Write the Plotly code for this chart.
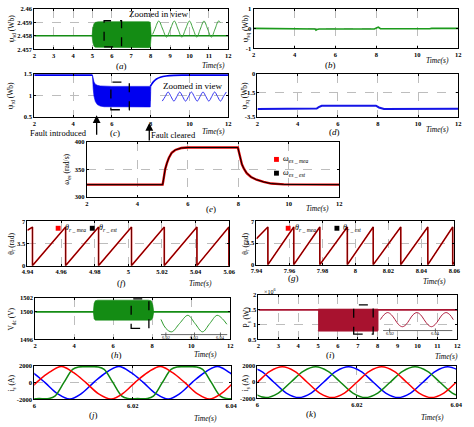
import plotly.graph_objects as go

W, H = 474, 427
FONT = "Liberation Serif"

# ------------------------- DATA -------------------------
# (a) psi_sd
a_line_t = [2, 12]
a_line_v = [2.458, 2.458]
a_band_t = [4.98, 5.02, 5.08, 5.15, 5.3, 5.6, 7.9, 7.98, 8.03]
a_band_hi = [2.458, 2.4586, 2.4589, 2.45900, 2.45904, 2.45905, 2.45905, 2.4590, 2.458]
a_band_lo = [2.458, 2.4575, 2.45722, 2.45715, 2.45712, 2.45712, 2.45712, 2.45715, 2.458]
a_zoom_t = [8.1, 8.22, 8.42, 8.62, 8.82, 9.02, 9.22, 9.41, 9.61, 9.8, 10.0, 10.19,
            10.38, 10.56, 10.75, 10.94, 11.13, 11.32, 11.5, 11.6]
a_zoom_v = [2.4581, 2.4585, 2.4591, 2.4585, 2.4579, 2.4585, 2.4591, 2.4585, 2.4579, 2.4585,
            2.4591, 2.4585, 2.4579, 2.4585, 2.4591, 2.4585, 2.4579, 2.4585, 2.4591, 2.4590]
a_box = [5.6, 6.5, 2.45718, 2.45912]

# (b) psi_sq
b_t = [2, 3.1, 3.15, 4.7, 5.0, 5.05, 5.1, 5.2, 5.5, 7.9, 8.05, 8.1, 8.2, 8.4, 10.6, 10.7, 12]
b_v = [0.01, 0.01, -0.01, -0.01, -0.02, -0.08, -0.04, -0.02, -0.02, -0.02, 0.05, 0.07,
       0.0, -0.01, -0.01, 0.01, 0.01]

# (c) psi_rd
c_pre_t = [2, 5.0]
c_pre_v = [1.47, 1.47]
c_rec_t = [7.98, 8.05, 8.15, 8.3, 8.5, 8.8, 9.2, 9.7, 12]
c_rec_v = [1.21, 1.26, 1.32, 1.38, 1.42, 1.45, 1.465, 1.47, 1.47]
c_band_t = [5.0, 5.04, 5.08, 5.15, 5.25, 5.4, 5.6, 6.0, 7.98, 8.01]
c_band_hi = [1.47, 1.38, 1.31, 1.26, 1.235, 1.22, 1.215, 1.21, 1.21, 1.21]
c_band_lo = [1.47, 1.15, 0.98, 0.86, 0.79, 0.755, 0.74, 0.735, 0.735, 1.20]
c_zoom_t = [8.6, 8.75, 8.9, 9.05, 9.2, 9.35, 9.5, 9.65, 9.8, 9.95, 10.1, 10.25, 10.4,
            10.55, 10.7, 10.85, 11.0, 11.15, 11.3, 11.45, 11.6, 11.75, 11.9]
c_zoom_v = [0.87, 0.975, 1.08, 0.975, 0.87, 0.975, 1.08, 0.975, 0.87, 0.975, 1.08, 0.975,
            0.87, 0.975, 1.08, 0.975, 0.87, 0.975, 1.08, 0.975, 0.87, 0.975, 1.08]
c_box = [5.95, 6.9, 0.67, 1.31]

# (d) psi_rq
d_t = [2, 3.5, 3.6, 4.95, 5.05, 5.2, 7.9, 8.05, 8.3, 11.0, 11.1, 12]
d_v = [-2.85, -2.85, -2.81, -2.81, -2.7, -2.58, -2.58, -2.72, -2.85, -2.86, -2.83, -2.83]

# (e) omega_es
e_t = [2, 5.0, 5.03, 5.06, 5.1, 5.17, 5.25, 5.36, 5.5, 5.74, 6.0, 7.98, 8.01, 8.04, 8.08,
       8.14, 8.22, 8.33, 8.5, 8.72, 9.0, 9.3, 9.8, 12]
e_mea = [322, 322, 330, 340, 350, 361, 371, 380, 385, 388.5, 389.5, 389.5, 384, 374, 366,
         359, 351, 343, 336, 331, 327, 324, 322.5, 322]
e_est = [322, 322, 330, 340, 350, 361, 371, 380, 385, 388.5, 389.5, 389.5, 384, 374, 366,
         359, 351, 343, 336, 331, 327, 324, 322.5, 322]

# (f) theta_r around 5 s
f_t = [4.94, 4.943, 4.943, 4.9627, 4.9627, 4.9823, 4.9823, 5.0019, 5.0019, 5.0214,
       5.0214, 5.0408, 5.0408, 5.0598, 5.0598, 5.06]
f_v = [5.6, 6.1, 0, 6.1, 0, 6.1, 0, 6.1, 0, 6.1, 0, 6.1, 0, 6.1, 0, 0.03]

# (g) theta_r around 8 s
g_t = [7.94, 7.9469, 7.9469, 7.9626, 7.9626, 7.9784, 7.9784, 7.9951, 7.9951, 8.0108,
       8.0108, 8.0275, 8.0275, 8.0439, 8.0439, 8.059, 8.059, 8.06]
g_v = [4.2, 6.1, 0, 6.1, 0, 6.1, 0, 6.1, 0, 6.1, 0, 6.1, 0, 6.1, 0, 6.1, 0, 0.4]

# (h) Vdc
h_line_t = [2, 12]
h_line_v = [1500, 1500]
h_band_t = [4.98, 5.02, 5.08, 5.2, 7.8, 7.95, 8.03, 8.08]
h_band_hi = [1500, 1501.2, 1501.6, 1501.7, 1501.7, 1501.6, 1501.0, 1500]
h_band_lo = [1500, 1499.0, 1498.8, 1498.8, 1498.8, 1498.8, 1499.2, 1500]
h_zoom_t = [8.45, 8.7, 9.0, 9.4, 9.83, 10.2, 10.58, 10.95, 11.33, 11.6, 11.83]
h_zoom_v = [1498.9, 1497.6, 1497.1, 1498.3, 1499.5, 1498.3, 1497.1, 1498.3, 1499.5, 1499.0, 1498.2]
h_inset_t = [8.45, 11.85]
h_inset_v = [1496.7, 1496.7]
h_inset_ticks = [8.7, 10.17, 11.5]
h_inset_labels = ["6.02", "6.03", "6.04"]
h_box = [6.92, 7.83, 1497.6, 1501.9]

# (i) Ps (x10^6 W)
i_line_t = [2, 12]
i_line_v = [1.5, 1.5]
i_band_t = [5.0, 5.01, 7.99, 8.02]
i_band_hi = [1.52, 1.53, 1.53, 1.52]
i_band_lo = [0.80, 0.78, 0.78, 0.80]
i_zoom_t = [8.13, 8.32, 8.5, 8.68, 8.87, 9.05, 9.24, 9.42, 9.6, 9.78, 9.97, 10.15, 10.33,
            10.52, 10.7, 10.88, 11.07, 11.25, 11.44, 11.62, 11.8]
i_zoom_v = [1.17, 1.34, 1.41, 1.34, 1.17, 1.0, 0.93, 1.0, 1.17, 1.34, 1.41, 1.34, 1.17,
            1.0, 0.93, 1.0, 1.17, 1.34, 1.41, 1.34, 1.17]
i_inset_t = [8.27, 11.75]
i_inset_v = [0.8, 0.8]
i_inset_ticks = [8.6, 10.9]
i_inset_labels = ["6.02", "6.04"]
i_box = [6.79, 7.77, 0.68, 1.67]

# (j) stator currents (distorted)
j_red_t = [5.9956, 5.9981, 6.0006, 6.0031, 6.0055, 6.0080, 6.0105, 6.0130, 6.0156, 6.0181,
           6.0206, 6.0231, 6.0256, 6.0281, 6.0306, 6.0331, 6.0356, 6.0381, 6.0406]
j_red_v = [-1950, -1250, 100, 1250, 1950, 1200, 0, -1300, -1950, -1250, 100, 1250, 1950,
           1200, 0, -1300, -1950, -1250, 100]
j_blue_t = [5.9972, 5.9997, 6.0022, 6.0047, 6.0072, 6.0097, 6.0122, 6.0147, 6.0172, 6.0197,
            6.0222, 6.0247, 6.0272, 6.0297, 6.0322, 6.0347, 6.0372, 6.0397, 6.0422]
j_blue_v = [1950, 1200, 0, -1300, -1950, -1250, 100, 1250, 1950, 1200, 0, -1300, -1950,
            -1250, 100, 1250, 1950, 1200, 0]
j_green_t = [5.996, 5.9978, 5.999, 6.001, 6.003, 6.0042, 6.006, 6.0078, 6.009, 6.011, 6.013,
             6.0142, 6.016, 6.0178, 6.019, 6.021, 6.023, 6.0242, 6.026, 6.0278, 6.029, 6.031,
             6.033, 6.0342, 6.036, 6.0378, 6.039, 6.041]
j_green_v = [0, -1600, -1880, -1900, -1880, -1600, 0, 1600, 1880, 1900, 1880, 1600, 0,
             -1600, -1880, -1900, -1880, -1600, 0, 1600, 1880, 1900, 1880, 1600, 0, -1600,
             -1880, -1900]

# (k) stator currents (sinusoidal)
k_red_t = [5.9975, 6.0, 6.0025, 6.005, 6.0075, 6.01, 6.0125, 6.015, 6.0175, 6.02, 6.0225,
           6.025, 6.0275, 6.03, 6.0325, 6.035, 6.0375, 6.04, 6.0425]
k_red_v = [-1340, 0, 1340, 1900, 1340, 0, -1340, -1900, -1340, 0, 1340, 1900, 1340, 0,
           -1340, -1900, -1340, 0, 1340]
k_green_t = [5.9967, 5.9992, 6.0017, 6.0042, 6.0067, 6.0092, 6.0117, 6.0142, 6.0167, 6.0192,
             6.0217, 6.0242, 6.0267, 6.0292, 6.0317, 6.0342, 6.0367, 6.0392, 6.0417]
k_green_v = [0, -1340, -1900, -1340, 0, 1340, 1900, 1340, 0, -1340, -1900, -1340, 0, 1340,
             1900, 1340, 0, -1340, -1900]
k_blue_t = [5.9983, 6.0008, 6.0033, 6.0058, 6.0083, 6.0108, 6.0133, 6.0158, 6.0183, 6.0208,
            6.0233, 6.0258, 6.0283, 6.0308, 6.0333, 6.0358, 6.0383, 6.0408, 6.0433]
k_blue_v = [1900, 1340, 0, -1340, -1900, -1340, 0, 1340, 1900, 1340, 0, -1340, -1900, -1340,
            0, 1340, 1900, 1340, 0]

# tick labels
t_2_12_all = [2, 3, 4, 5, 6, 7, 8, 9, 10, 11, 12]
t_2_12_even = [2, 4, 6, 8, 10, 12]
f_ticks = [4.94, 4.96, 4.98, 5.0, 5.02, 5.04, 5.06]
f_ticklabels = ["4.94", "4.96", "4.98", "5", "5.02", "5.04", "5.06"]
g_ticks = [7.94, 7.96, 7.98, 8.0, 8.02, 8.04, 8.06]
g_ticklabels = ["7.94", "7.96", "7.98", "8", "8.02", "8.04", "8.06"]
jk_ticks = [6.0, 6.02, 6.04]
jk_ticklabels = ["6", "6.02", "6.04"]

# ------------------------- LAYOUT GEOMETRY (pixels) -------------------------
panels = {
    'a': (1, 29, 228, 5, 46, [2, 12], [2.457, 2.46], t_2_12_all, None,
          [2.457, 2.458, 2.459, 2.46], ["2.457", "2.458", "2.459", "2.46"]),
    'b': (2, 254, 464, 5, 45, [2, 12], [-1, 1], t_2_12_even, None, [-1, 0, 1], ["-1", "0", "1"]),
    'c': (3, 29, 228, 71, 115, [2, 12], [0.5, 1.5], t_2_12_even, None, [0.5, 1, 1.5], ["0.5", "1", "1.5"]),
    'd': (4, 258, 464, 71, 115, [2, 12], [-3.5, 0], t_2_12_even, None, [-3.5, -1.5, 0], ["-3.5", "-1.5", "0"]),
    'e': (5, 83, 342, 140, 196, [2, 12], [300, 400], t_2_12_even, None, [300, 350, 400], ["300", "350", "400"]),
    'f': (6, 22, 229, 221, 266, [4.94, 5.06], [0, 7], f_ticks, f_ticklabels, [0, 3.5, 7], ["0", "3.5", "7"]),
    'g': (7, 257, 460, 221, 265, [7.94, 8.06], [0, 7], g_ticks, g_ticklabels, [0, 3.5, 7], ["0", "3.5", "7"]),
    'h': (8, 30, 230, 299, 341, [2, 12], [1496, 1502], t_2_12_even, None, [1496, 1500, 1502], ["1496", "1500", "1502"]),
    'i': (9, 259, 463, 296, 341, [2, 12], [0.5, 2], t_2_12_all, None, [0.5, 1, 1.5, 2], ["0.5", "1", "1.5", "2"]),
    'j': (10, 29, 231, 368, 402, [6.0, 6.04], [-2000, 2000], jk_ticks, jk_ticklabels, [-2000, 0, 2000], ["-2000", "0", "2000"]),
    'k': (11, 258, 462, 368, 401, [6.0, 6.04], [-2000, 2000], jk_ticks, jk_ticklabels, [-2000, 0, 2000], ["-2000", "0", "2000"]),
}


def px(x):
    return x / W


def py(y):
    return 1 - y / H


def refs(p):
    n = panels[p][0]
    s = '' if n == 1 else str(n)
    return 'x' + s, 'y' + s


fig = go.Figure()


def line(p, t, v, color, width, shape='linear', dash=None):
    xr, yr = refs(p)
    fig.add_trace(go.Scatter(x=t, y=v, mode='lines', xaxis=xr, yaxis=yr, hoverinfo='skip',
                             showlegend=False,
                             line=dict(color=color, width=width, shape=shape, dash=dash)))


def band(p, t, hi, lo, color):
    xr, yr = refs(p)
    fig.add_trace(go.Scatter(x=list(t) + list(t)[::-1], y=list(hi) + list(lo)[::-1],
                             mode='lines', fill='toself', fillcolor=color, xaxis=xr, yaxis=yr,
                             line=dict(color=color, width=0.6), hoverinfo='skip', showlegend=False))


def box(p, b):
    xr, yr = refs(p)
    fig.add_shape(type='rect', xref=xr, yref=yr, x0=b[0], x1=b[1], y0=b[2], y1=b[3],
                  line=dict(color='black', width=1.3, dash='dash'))


GREEN = '#148C14'
BLUE = '#0000F0'
CRIMSON = '#A8122F'

line('a', a_line_t, a_line_v, GREEN, 1.6)
band('a', a_band_t, a_band_hi, a_band_lo, GREEN)
line('a', a_zoom_t, a_zoom_v, '#3FA33F', 1.0, shape='spline')
box('a', a_box)
line('b', b_t, b_v, '#1B9A1B', 1.6)
line('c', c_pre_t, c_pre_v, BLUE, 1.6)
band('c', c_band_t, c_band_hi, c_band_lo, BLUE)
line('c', c_rec_t, c_rec_v, BLUE, 1.6, shape='spline')
line('c', c_zoom_t, c_zoom_v, '#3333F0', 1.0, shape='spline')
box('c', c_box)
line('d', d_t, d_v, '#1414E6', 2.0)
line('e', e_t, e_mea, '#E00000', 2.4)
line('e', e_t, e_est, '#000000', 1.0)
line('f', f_t, f_v, '#D00000', 1.6)
line('f', f_t, f_v, '#300000', 0.6)
line('g', g_t, g_v, '#D00000', 1.6)
line('g', g_t, g_v, '#300000', 0.6)
line('h', h_line_t, h_line_v, GREEN, 1.6)
band('h', h_band_t, h_band_hi, h_band_lo, GREEN)
line('h', h_zoom_t, h_zoom_v, '#2E9B2E', 1.0, shape='spline')
line('h', h_inset_t, h_inset_v, '#444444', 0.8)
box('h', h_box)
line('i', i_line_t, i_line_v, CRIMSON, 1.6)
band('i', i_band_t, i_band_hi, i_band_lo, CRIMSON)
line('i', i_zoom_t, i_zoom_v, '#B02040', 1.0, shape='spline')
line('i', i_inset_t, i_inset_v, '#444444', 0.8)
box('i', i_box)
line('j', j_blue_t, j_blue_v, '#0000FF', 1.5, shape='spline')
line('j', j_green_t, j_green_v, '#118811', 1.5, shape='spline')
line('j', j_red_t, j_red_v, '#FF0000', 1.5, shape='spline')
line('k', k_blue_t, k_blue_v, '#0000FF', 1.5, shape='spline')
line('k', k_green_t, k_green_v, '#118811', 1.5, shape='spline')
line('k', k_red_t, k_red_v, '#FF0000', 1.5, shape='spline')

for p, ticks, labels, yv, ylab in [('h', h_inset_ticks, h_inset_labels, 1496.7, 1496.3),
                                   ('i', i_inset_ticks, i_inset_labels, 0.8, 0.7)]:
    xr, yr = refs(p)
    fig.add_trace(go.Scatter(x=ticks, y=[yv] * len(ticks), mode='markers', xaxis=xr, yaxis=yr,
                             marker=dict(symbol='line-ns', size=3, line=dict(width=0.8, color='#444444')),
                             hoverinfo='skip', showlegend=False))
    for tv, lab in zip(ticks, labels):
        fig.add_annotation(x=tv, y=ylab, xref=xr, yref=yr, text=lab, showarrow=False,
                           font=dict(family=FONT, size=4.5, color='black'))

layout = {}
for p, (n, l, r, t, b, xr, yr, xt, xl, yt, yl) in panels.items():
    s = '' if n == 1 else str(n)
    common = dict(showline=True, mirror='ticks', linecolor='black', linewidth=1,
                  ticks='inside', ticklen=2, tickcolor='black', tickwidth=1,
                  showgrid=True, gridcolor='#bdbdbd', griddash='dash', gridwidth=0.7,
                  zeroline=False, fixedrange=True,
                  tickfont=dict(family=FONT, size=6.5, color='black', weight='bold'))
    layout['xaxis' + s] = dict(common, domain=[px(l), px(r)], anchor='y' + s, range=xr,
                               tickvals=xt, ticktext=xl if xl else [str(v) for v in xt],
                               tickangle=0)
    layout['yaxis' + s] = dict(common, domain=[py(b), py(t)], anchor='x' + s, range=yr,
                               tickvals=yt, ticktext=yl)

fig.update_layout(width=W, height=H, margin=dict(l=0, r=0, t=0, b=0),
                  paper_bgcolor='white', plot_bgcolor='white', showlegend=False, **layout)


def text(x, y, s, size=8, angle=0, color='black'):
    fig.add_annotation(x=px(x), y=py(y), xref='paper', yref='paper', text=s, showarrow=False,
                       textangle=angle, font=dict(family=FONT, size=size, color=color),
                       xanchor='center', yanchor='middle')


for x, y, s in [(118, 63, 'a'), (333, 62, 'b'), (112, 131, 'c'), (337, 130, 'd'),
                (210, 208, 'e'), (118, 284, 'f'), (295, 279, 'g'), (113, 357, 'h'),
                (333, 357, 'i'), (90, 418, 'j'), (313, 417, 'k')]:
    text(x, y, '(<i>%s</i>)' % s, size=9)
for x, y in [(213, 63), (443, 57), (213, 130), (443, 128), (320, 208), (200, 284),
             (440, 282), (205, 356), (452, 358), (205, 421), (438, 420)]:
    text(x, y, '<i>Time(s)</i>', size=7.5)

for x, y, s in [(6, 25, 'ψ<sub>sd</sub> (Wb)'), (246, 25, 'ψ<sub>sq</sub> (Wb)'),
                (6, 93, 'ψ<sub>rd</sub> (Wb)'), (246, 93, 'ψ<sub>rq</sub> (Wb)'),
                (63, 168, 'ω<sub>es</sub> (rad/s)'), (6, 244, 'θ<sub>r</sub> (rad)'),
                (246, 244, 'θ<sub>r</sub> (rad)'), (6, 320, 'V<sub>dc</sub> (V)'),
                (247, 318, 'P<sub>s</sub> (W)'), (6, 385, 'i<sub>s</sub> (A)'),
                (246, 385, 'i<sub>s</sub> (A)')]:
    text(x, y, s, size=7.5, angle=-90)

text(156, 10, 'Zoomed in view', size=9)
text(191, 83, 'Zoomed in view', size=9)
text(270, 292, '×10<sup>6</sup>', size=6)
text(54, 131, 'Fault introduced', size=8.5)
text(172, 133, 'Fault cleared', size=8.5)

for x, y0, y1 in [(93, 134, 113), (147, 140, 121)]:
    fig.add_annotation(x=px(x), y=py(y1), xref='paper', yref='paper', ax=0, ay=y0 - y1,
                       text='', showarrow=True, arrowhead=2,
                       arrowsize=1.2, arrowwidth=1.3, arrowcolor='black')


def legend_item(x, y, color, label):
    fig.add_shape(type='rect', xref='paper', yref='paper', x0=px(x), x1=px(x + 5),
                  y0=py(y + 2.5), y1=py(y - 2.5), fillcolor=color, line=dict(width=0))
    fig.add_annotation(x=px(x + 7), y=py(y), xref='paper', yref='paper', text=label,
                       showarrow=False, xanchor='left', yanchor='middle',
                       font=dict(family=FONT, size=8, color='black'))


legend_item(275, 158, '#FF0000', '<i>ω<sub>es _ mea</sub></i>')
legend_item(275, 172, '#000000', '<i>ω<sub>es _ est</sub></i>')
legend_item(51, 228, '#FF0000', '<i>θ<sub>r _ mea</sub></i>')
legend_item(86, 228, '#000000', '<i>θ<sub>r _ est</sub></i>')
legend_item(287, 228, '#FF0000', '<i>θ<sub>r _ mea</sub></i>')
legend_item(337, 228, '#000000', '<i>θ<sub>r _ est</sub></i>')

fig.write_html("out.html", config={'displayModeBar': False},
               post_script="document.body.style.margin='0';document.body.style.padding='0';")
